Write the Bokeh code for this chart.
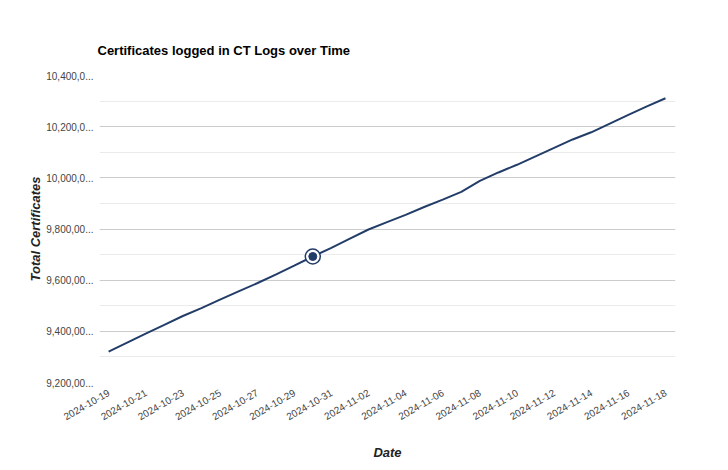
import pandas as pd
from bokeh.plotting import figure
from bokeh.models import Range1d, FixedTicker, DatetimeTickFormatter, Title
from bokeh.embed import file_html
from bokeh.resources import INLINE

# ---- data ----
dates = ["2024-10-19", "2024-10-20", "2024-10-21", "2024-10-22", "2024-10-23",
         "2024-10-24", "2024-10-25", "2024-10-26", "2024-10-27", "2024-10-28",
         "2024-10-29", "2024-10-30", "2024-10-31", "2024-11-01", "2024-11-02",
         "2024-11-03", "2024-11-04", "2024-11-05", "2024-11-06", "2024-11-07",
         "2024-11-08", "2024-11-09", "2024-11-10", "2024-11-11", "2024-11-12",
         "2024-11-13", "2024-11-14", "2024-11-15", "2024-11-16", "2024-11-17",
         "2024-11-18"]
certificates = [9321000, 9356000, 9391000, 9425000, 9460000,
                9491000, 9524000, 9556000, 9588000, 9622000,
                9657000, 9692500, 9726000, 9762000, 9798000,
                9827000, 9855000, 9886000, 9915000, 9945000,
                9988000, 10021000, 10051000, 10084000, 10117000,
                10150000, 10178000, 10212000, 10246000, 10279000,
                10311000]
highlight_date = "2024-10-30"
highlight_value = 9692500

x_tick_labels = ["2024-10-19", "2024-10-21", "2024-10-23", "2024-10-25",
                 "2024-10-27", "2024-10-29", "2024-10-31", "2024-11-02",
                 "2024-11-04", "2024-11-06", "2024-11-08", "2024-11-10",
                 "2024-11-12", "2024-11-14", "2024-11-16", "2024-11-18"]
y_ticks = [9200000, 9400000, 9600000, 9800000, 10000000, 10200000, 10400000]
y_tick_labels = ["9,200,00...", "9,400,00...", "9,600,00...", "9,800,00...",
                 "10,000,0...", "10,200,0...", "10,400,0..."]
y_minor_ticks = [9300000, 9500000, 9700000, 9900000, 10100000, 10300000]

title_text = "Certificates logged in CT Logs over Time"
x_title = "Date"
y_title = "Total Certificates"

# ---- build ----
x = pd.to_datetime(dates)
DAY = 86400000.0
x_ms = [t.value / 1e6 for t in x]
tick_ms = [pd.Timestamp(d).value / 1e6 for d in x_tick_labels]

FONT = "Liberation Sans"
LINE = "#233d69"

p = figure(width=720, height=462, frame_width=576, frame_height=307,
           x_axis_type="datetime", output_backend="svg", toolbar_location=None,
           min_border_left=99, min_border_right=45, min_border_top=75,
           min_border_bottom=80)
p.x_range = Range1d(x_ms[0] - 0.49 * DAY, x_ms[-1] + 0.54 * DAY)
p.y_range = Range1d(y_ticks[0], y_ticks[-1])

p.title = Title(text=title_text, text_font=FONT, text_font_size="13px",
                text_font_style="bold", text_color="#000000", align="left",
                standoff=36, offset=-2)

p.line(x, certificates, line_color=LINE, line_width=2)
p.scatter([pd.Timestamp(highlight_date)], [highlight_value], size=15,
          fill_color="white", line_color=LINE, line_width=1.5)
p.scatter([pd.Timestamp(highlight_date)], [highlight_value], size=8,
          fill_color=LINE, line_color=LINE)

p.outline_line_color = None
p.background_fill_color = "white"
p.border_fill_color = "white"

# x axis
xa = p.xaxis[0]
xa.ticker = FixedTicker(ticks=tick_ms)
fmt = "%Y-%m-%d"
xa.formatter = DatetimeTickFormatter(milliseconds=fmt, seconds=fmt, minsec=fmt,
                                     minutes=fmt, hourmin=fmt, hours=fmt,
                                     days=fmt, months=fmt, years=fmt)
xa.major_label_orientation = 0.5236
xa.major_label_text_font = FONT
xa.major_label_text_font_size = "10px"
xa.major_label_text_color = "#444444"
xa.major_label_standoff = 3
xa.axis_label = x_title
xa.axis_label_text_font = FONT
xa.axis_label_text_font_size = "13px"
xa.axis_label_text_font_style = "bold italic"
xa.axis_label_text_color = "#222222"
xa.axis_label_standoff = 18
xa.axis_line_color = None
xa.major_tick_line_color = None
xa.minor_tick_line_color = None

# y axis
ya = p.yaxis[0]
ya.ticker = FixedTicker(ticks=y_ticks, minor_ticks=y_minor_ticks)
ya.major_label_overrides = {t: l for t, l in zip(y_ticks, y_tick_labels)}
ya.major_label_text_font = FONT
ya.major_label_text_font_size = "10px"
ya.major_label_text_color = "#444444"
ya.major_label_standoff = 0
ya.axis_label = y_title
ya.axis_label_text_font = FONT
ya.axis_label_text_font_size = "13px"
ya.axis_label_text_font_style = "bold italic"
ya.axis_label_text_color = "#222222"
ya.axis_label_standoff = 0
ya.axis_line_color = None
ya.major_tick_line_color = None
ya.minor_tick_line_color = None

p.xgrid.grid_line_color = None
p.ygrid.grid_line_color = "#cccccc"
p.ygrid.minor_grid_line_color = "#ebebeb"

open("out.html", "w").write(file_html(p, INLINE))
